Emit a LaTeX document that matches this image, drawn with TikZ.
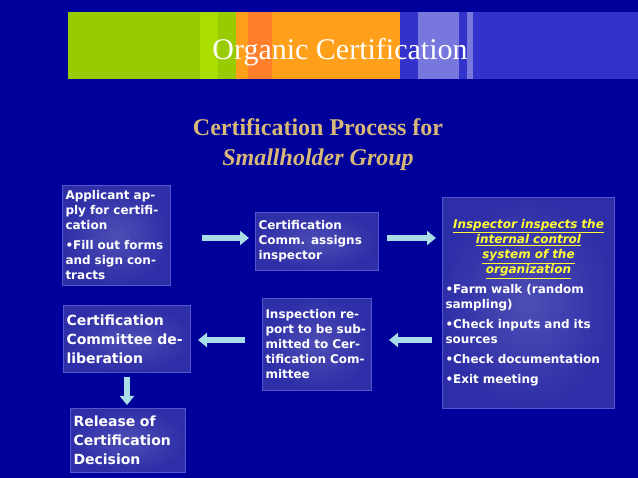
\documentclass[tikz,border=0pt]{standalone}
\usepackage{fontspec}
\setmainfont{DejaVu Sans}
\newfontfamily\serifx{Liberation Serif}
\usetikzlibrary{arrows.meta}
\definecolor{bg}{HTML}{00009A}
\definecolor{boxc}{HTML}{2E2EA8}
\definecolor{boxe}{HTML}{5555CC}
\definecolor{arr}{HTML}{A8DCE6}
\definecolor{gold}{HTML}{D8B878}
\definecolor{yel}{HTML}{FFFF33}
\definecolor{bgreen}{HTML}{99CC00}
\definecolor{lgreen}{HTML}{AADD00}
\definecolor{orA}{HTML}{FF9F1A}
\definecolor{orB}{HTML}{FF7F2A}
\definecolor{blB}{HTML}{3333CC}
\definecolor{lav}{HTML}{7777DD}
\tikzset{
 box/.style={draw=boxe,line width=1pt,inner color=boxc!85!white,outer color=boxc,
   text=white,font=\bfseries\fontsize{12}{15}\selectfont,align=left,anchor=north west,inner sep=3pt},
 fat/.style={draw=arr,line width=6pt,-{Triangle[width=14pt,length=9pt]}}
}
\begin{document}
\begin{tikzpicture}[x=1pt,y=-1pt]
\fill[bg] (0,0) rectangle (638,478);
\useasboundingbox (0,0) rectangle (638,478);
\fill[bgreen] (68,12) rectangle (200,79);
\fill[lgreen] (200,12) rectangle (218,79);
\fill[bgreen] (218,12) rectangle (236,79);
\fill[orA] (236,12) rectangle (248,79);
\fill[orB] (248,12) rectangle (272,79);
\fill[orA] (272,12) rectangle (400,79);
\fill[blB] (400,12) rectangle (638,79);
\fill[lav] (418,12) rectangle (459,79);
\fill[lav] (467,12) rectangle (473,79);
\node[text=white,font=\serifx\fontsize{30}{34}\selectfont] (ttl) at (340,52) {Organic Certification};
\node[text=gold,font=\serifx\bfseries\fontsize{24}{30}\selectfont,align=center] (sub) at (318,145)
 {Certification Process for\\\itshape Smallholder Group};
\node[box,text width=102pt,minimum height=100pt] (a) at (62,185)
 {Applicant apply for certification\\[5pt]•Fill out forms and sign contracts};
\node[box,text width=117pt,minimum height=58pt] (b) at (255,212)
 {Certification Comm. assigns inspector};
\node[box,text width=166pt,minimum height=211pt] (c) at (442,197)
 {{\centering\color{yel}\itshape\underline{Inspector inspects the}\\\underline{internal control}\\\underline{system of the}\\\underline{organization}\par}
 \vspace{5pt}•Farm walk (random sampling)\\[5pt]•Check inputs and its sources\\[5pt]•Check documentation\\[5pt]•Exit meeting};
\node[box,text width=103pt,minimum height=92pt] (d) at (262,298)
 {Inspection report to be submitted to Certification Committee};
\node[box,text width=121pt,minimum height=67pt,font=\bfseries\fontsize{14}{19}\selectfont] (e) at (63,305)
 {Certification Committee deliberation};
\node[box,text width=109pt,minimum height=64pt,font=\bfseries\fontsize{14}{19}\selectfont] (f) at (70,408)
 {Release of Certification Decision};
\coordinate (r1s) at (202,238); \coordinate (r1e) at (249,238);
\coordinate (r2s) at (387,238); \coordinate (r2e) at (436,238);
\coordinate (l1s) at (245,340); \coordinate (l1e) at (198,340);
\coordinate (l2s) at (432,340); \coordinate (l2e) at (389,340);
\coordinate (dns) at (127,377); \coordinate (dne) at (127,405);
\draw[fat] (r1s) -- (r1e);
\draw[fat] (r2s) -- (r2e);
\draw[fat] (l1s) -- (l1e);
\draw[fat] (l2s) -- (l2e);
\draw[fat] (dns) -- (dne);
\end{tikzpicture}
\end{document}
